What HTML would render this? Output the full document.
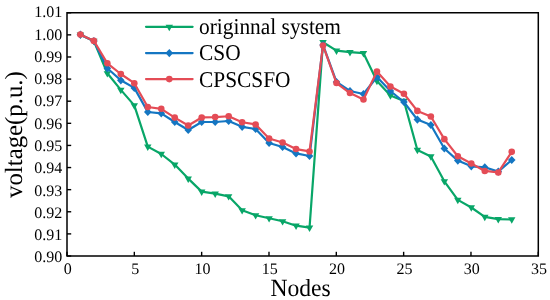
<!DOCTYPE html>
<html><head><meta charset="utf-8"><title>Voltage profile</title>
<style>html,body{margin:0;padding:0;background:#fff;}body{width:550px;height:300px;overflow:hidden;}svg{display:block;filter:blur(0.3px);}</style>
</head><body>
<svg width="550" height="300" viewBox="0 0 550 300" font-family="'Liberation Serif', 'Times New Roman', serif" fill="#000" text-rendering="geometricPrecision">
<rect width="550" height="300" fill="#fff"/>
<polyline points="80.38,34.70 93.86,41.00 107.34,73.30 120.82,89.90 134.30,105.40 147.78,146.60 161.26,154.00 174.74,164.60 188.22,178.60 201.70,191.60 215.18,193.60 228.66,196.30 242.14,210.30 255.62,215.30 269.10,218.30 282.58,221.30 296.06,225.70 309.54,227.60 323.02,42.20 336.50,50.65 349.98,52.15 363.46,53.15 376.94,81.00 390.42,95.50 403.90,101.00 417.38,150.00 430.86,156.50 444.34,181.30 457.82,199.90 471.30,207.50 484.78,216.90 498.26,219.10 511.74,219.50" fill="none" stroke="#08a668" stroke-width="2.2" stroke-linejoin="round"/>
<polygon points="76.66,32.55 84.10,32.55 80.38,39.00" fill="#08a668"/>
<polygon points="90.14,38.85 97.58,38.85 93.86,45.30" fill="#08a668"/>
<polygon points="103.62,71.15 111.06,71.15 107.34,77.60" fill="#08a668"/>
<polygon points="117.10,87.75 124.54,87.75 120.82,94.20" fill="#08a668"/>
<polygon points="130.58,103.25 138.02,103.25 134.30,109.70" fill="#08a668"/>
<polygon points="144.06,144.45 151.50,144.45 147.78,150.90" fill="#08a668"/>
<polygon points="157.54,151.85 164.98,151.85 161.26,158.30" fill="#08a668"/>
<polygon points="171.02,162.45 178.46,162.45 174.74,168.90" fill="#08a668"/>
<polygon points="184.50,176.45 191.94,176.45 188.22,182.90" fill="#08a668"/>
<polygon points="197.98,189.45 205.42,189.45 201.70,195.90" fill="#08a668"/>
<polygon points="211.46,191.45 218.90,191.45 215.18,197.90" fill="#08a668"/>
<polygon points="224.94,194.15 232.38,194.15 228.66,200.60" fill="#08a668"/>
<polygon points="238.42,208.15 245.86,208.15 242.14,214.60" fill="#08a668"/>
<polygon points="251.90,213.15 259.34,213.15 255.62,219.60" fill="#08a668"/>
<polygon points="265.38,216.15 272.82,216.15 269.10,222.60" fill="#08a668"/>
<polygon points="278.86,219.15 286.30,219.15 282.58,225.60" fill="#08a668"/>
<polygon points="292.34,223.55 299.78,223.55 296.06,230.00" fill="#08a668"/>
<polygon points="305.82,225.45 313.26,225.45 309.54,231.90" fill="#08a668"/>
<polygon points="319.30,40.05 326.74,40.05 323.02,46.50" fill="#08a668"/>
<polygon points="332.78,48.50 340.22,48.50 336.50,54.95" fill="#08a668"/>
<polygon points="346.26,50.00 353.70,50.00 349.98,56.45" fill="#08a668"/>
<polygon points="359.74,51.00 367.18,51.00 363.46,57.45" fill="#08a668"/>
<polygon points="373.22,78.85 380.66,78.85 376.94,85.30" fill="#08a668"/>
<polygon points="386.70,93.35 394.14,93.35 390.42,99.80" fill="#08a668"/>
<polygon points="400.18,98.85 407.62,98.85 403.90,105.30" fill="#08a668"/>
<polygon points="413.66,147.85 421.10,147.85 417.38,154.30" fill="#08a668"/>
<polygon points="427.14,154.35 434.58,154.35 430.86,160.80" fill="#08a668"/>
<polygon points="440.62,179.15 448.06,179.15 444.34,185.60" fill="#08a668"/>
<polygon points="454.10,197.75 461.54,197.75 457.82,204.20" fill="#08a668"/>
<polygon points="467.58,205.35 475.02,205.35 471.30,211.80" fill="#08a668"/>
<polygon points="481.06,214.75 488.50,214.75 484.78,221.20" fill="#08a668"/>
<polygon points="494.54,216.95 501.98,216.95 498.26,223.40" fill="#08a668"/>
<polygon points="508.02,217.35 515.46,217.35 511.74,223.80" fill="#08a668"/>
<polyline points="80.38,34.70 93.86,41.00 107.34,68.30 120.82,80.30 134.30,87.90 147.78,112.00 161.26,113.30 174.74,122.00 188.22,130.00 201.70,122.00 215.18,122.00 228.66,121.00 242.14,126.80 255.62,129.00 269.10,143.00 282.58,147.00 296.06,153.40 309.54,156.00 323.02,45.00 336.50,82.00 349.98,91.00 363.46,94.00 376.94,77.00 390.42,91.00 403.90,102.00 417.38,119.60 430.86,125.00 444.34,148.50 457.82,160.60 471.30,166.30 484.78,167.30 498.26,171.60 511.74,160.00" fill="none" stroke="#1476c2" stroke-width="2.2" stroke-linejoin="round"/>
<polygon points="80.38,30.60 84.18,34.70 80.38,38.80 76.58,34.70" fill="#1476c2"/>
<polygon points="93.86,36.90 97.66,41.00 93.86,45.10 90.06,41.00" fill="#1476c2"/>
<polygon points="107.34,64.20 111.14,68.30 107.34,72.40 103.54,68.30" fill="#1476c2"/>
<polygon points="120.82,76.20 124.62,80.30 120.82,84.40 117.02,80.30" fill="#1476c2"/>
<polygon points="134.30,83.80 138.10,87.90 134.30,92.00 130.50,87.90" fill="#1476c2"/>
<polygon points="147.78,107.90 151.58,112.00 147.78,116.10 143.98,112.00" fill="#1476c2"/>
<polygon points="161.26,109.20 165.06,113.30 161.26,117.40 157.46,113.30" fill="#1476c2"/>
<polygon points="174.74,117.90 178.54,122.00 174.74,126.10 170.94,122.00" fill="#1476c2"/>
<polygon points="188.22,125.90 192.02,130.00 188.22,134.10 184.42,130.00" fill="#1476c2"/>
<polygon points="201.70,117.90 205.50,122.00 201.70,126.10 197.90,122.00" fill="#1476c2"/>
<polygon points="215.18,117.90 218.98,122.00 215.18,126.10 211.38,122.00" fill="#1476c2"/>
<polygon points="228.66,116.90 232.46,121.00 228.66,125.10 224.86,121.00" fill="#1476c2"/>
<polygon points="242.14,122.70 245.94,126.80 242.14,130.90 238.34,126.80" fill="#1476c2"/>
<polygon points="255.62,124.90 259.42,129.00 255.62,133.10 251.82,129.00" fill="#1476c2"/>
<polygon points="269.10,138.90 272.90,143.00 269.10,147.10 265.30,143.00" fill="#1476c2"/>
<polygon points="282.58,142.90 286.38,147.00 282.58,151.10 278.78,147.00" fill="#1476c2"/>
<polygon points="296.06,149.30 299.86,153.40 296.06,157.50 292.26,153.40" fill="#1476c2"/>
<polygon points="309.54,151.90 313.34,156.00 309.54,160.10 305.74,156.00" fill="#1476c2"/>
<polygon points="323.02,40.90 326.82,45.00 323.02,49.10 319.22,45.00" fill="#1476c2"/>
<polygon points="336.50,77.90 340.30,82.00 336.50,86.10 332.70,82.00" fill="#1476c2"/>
<polygon points="349.98,86.90 353.78,91.00 349.98,95.10 346.18,91.00" fill="#1476c2"/>
<polygon points="363.46,89.90 367.26,94.00 363.46,98.10 359.66,94.00" fill="#1476c2"/>
<polygon points="376.94,72.90 380.74,77.00 376.94,81.10 373.14,77.00" fill="#1476c2"/>
<polygon points="390.42,86.90 394.22,91.00 390.42,95.10 386.62,91.00" fill="#1476c2"/>
<polygon points="403.90,97.90 407.70,102.00 403.90,106.10 400.10,102.00" fill="#1476c2"/>
<polygon points="417.38,115.50 421.18,119.60 417.38,123.70 413.58,119.60" fill="#1476c2"/>
<polygon points="430.86,120.90 434.66,125.00 430.86,129.10 427.06,125.00" fill="#1476c2"/>
<polygon points="444.34,144.40 448.14,148.50 444.34,152.60 440.54,148.50" fill="#1476c2"/>
<polygon points="457.82,156.50 461.62,160.60 457.82,164.70 454.02,160.60" fill="#1476c2"/>
<polygon points="471.30,162.20 475.10,166.30 471.30,170.40 467.50,166.30" fill="#1476c2"/>
<polygon points="484.78,163.20 488.58,167.30 484.78,171.40 480.98,167.30" fill="#1476c2"/>
<polygon points="498.26,167.50 502.06,171.60 498.26,175.70 494.46,171.60" fill="#1476c2"/>
<polygon points="511.74,155.90 515.54,160.00 511.74,164.10 507.94,160.00" fill="#1476c2"/>
<polyline points="80.38,34.50 93.86,40.90 107.34,63.30 120.82,74.00 134.30,83.20 147.78,107.00 161.26,108.80 174.74,117.60 188.22,125.45 201.70,117.45 215.18,117.05 228.66,116.25 242.14,122.25 255.62,124.45 269.10,138.45 282.58,142.45 296.06,149.05 309.54,151.45 323.02,45.45 336.50,83.05 349.98,93.05 363.46,99.45 376.94,71.60 390.42,86.50 403.90,93.70 417.38,110.90 430.86,116.45 444.34,139.15 457.82,156.25 471.30,163.45 484.78,170.95 498.26,172.45 511.74,151.85" fill="none" stroke="#e44c56" stroke-width="2.2" stroke-linejoin="round"/>
<circle cx="80.38" cy="34.50" r="3.3" fill="#e44c56"/>
<circle cx="93.86" cy="40.90" r="3.3" fill="#e44c56"/>
<circle cx="107.34" cy="63.30" r="3.3" fill="#e44c56"/>
<circle cx="120.82" cy="74.00" r="3.3" fill="#e44c56"/>
<circle cx="134.30" cy="83.20" r="3.3" fill="#e44c56"/>
<circle cx="147.78" cy="107.00" r="3.3" fill="#e44c56"/>
<circle cx="161.26" cy="108.80" r="3.3" fill="#e44c56"/>
<circle cx="174.74" cy="117.60" r="3.3" fill="#e44c56"/>
<circle cx="188.22" cy="125.45" r="3.3" fill="#e44c56"/>
<circle cx="201.70" cy="117.45" r="3.3" fill="#e44c56"/>
<circle cx="215.18" cy="117.05" r="3.3" fill="#e44c56"/>
<circle cx="228.66" cy="116.25" r="3.3" fill="#e44c56"/>
<circle cx="242.14" cy="122.25" r="3.3" fill="#e44c56"/>
<circle cx="255.62" cy="124.45" r="3.3" fill="#e44c56"/>
<circle cx="269.10" cy="138.45" r="3.3" fill="#e44c56"/>
<circle cx="282.58" cy="142.45" r="3.3" fill="#e44c56"/>
<circle cx="296.06" cy="149.05" r="3.3" fill="#e44c56"/>
<circle cx="309.54" cy="151.45" r="3.3" fill="#e44c56"/>
<circle cx="323.02" cy="45.45" r="3.3" fill="#e44c56"/>
<circle cx="336.50" cy="83.05" r="3.3" fill="#e44c56"/>
<circle cx="349.98" cy="93.05" r="3.3" fill="#e44c56"/>
<circle cx="363.46" cy="99.45" r="3.3" fill="#e44c56"/>
<circle cx="376.94" cy="71.60" r="3.3" fill="#e44c56"/>
<circle cx="390.42" cy="86.50" r="3.3" fill="#e44c56"/>
<circle cx="403.90" cy="93.70" r="3.3" fill="#e44c56"/>
<circle cx="417.38" cy="110.90" r="3.3" fill="#e44c56"/>
<circle cx="430.86" cy="116.45" r="3.3" fill="#e44c56"/>
<circle cx="444.34" cy="139.15" r="3.3" fill="#e44c56"/>
<circle cx="457.82" cy="156.25" r="3.3" fill="#e44c56"/>
<circle cx="471.30" cy="163.45" r="3.3" fill="#e44c56"/>
<circle cx="484.78" cy="170.95" r="3.3" fill="#e44c56"/>
<circle cx="498.26" cy="172.45" r="3.3" fill="#e44c56"/>
<circle cx="511.74" cy="151.85" r="3.3" fill="#e44c56"/>
<rect x="67.0" y="12.75" width="471.30" height="243.25" fill="none" stroke="#000" stroke-width="1.5"/>
<line x1="67.00" y1="256.0" x2="67.00" y2="251.80" stroke="#000" stroke-width="1.4"/>
<line x1="134.33" y1="256.0" x2="134.33" y2="251.80" stroke="#000" stroke-width="1.4"/>
<line x1="201.66" y1="256.0" x2="201.66" y2="251.80" stroke="#000" stroke-width="1.4"/>
<line x1="268.99" y1="256.0" x2="268.99" y2="251.80" stroke="#000" stroke-width="1.4"/>
<line x1="336.31" y1="256.0" x2="336.31" y2="251.80" stroke="#000" stroke-width="1.4"/>
<line x1="403.64" y1="256.0" x2="403.64" y2="251.80" stroke="#000" stroke-width="1.4"/>
<line x1="470.97" y1="256.0" x2="470.97" y2="251.80" stroke="#000" stroke-width="1.4"/>
<line x1="538.30" y1="256.0" x2="538.30" y2="251.80" stroke="#000" stroke-width="1.4"/>
<line x1="67.0" y1="256.00" x2="71.20" y2="256.00" stroke="#000" stroke-width="1.4"/>
<line x1="67.0" y1="233.89" x2="71.20" y2="233.89" stroke="#000" stroke-width="1.4"/>
<line x1="67.0" y1="211.77" x2="71.20" y2="211.77" stroke="#000" stroke-width="1.4"/>
<line x1="67.0" y1="189.66" x2="71.20" y2="189.66" stroke="#000" stroke-width="1.4"/>
<line x1="67.0" y1="167.55" x2="71.20" y2="167.55" stroke="#000" stroke-width="1.4"/>
<line x1="67.0" y1="145.43" x2="71.20" y2="145.43" stroke="#000" stroke-width="1.4"/>
<line x1="67.0" y1="123.32" x2="71.20" y2="123.32" stroke="#000" stroke-width="1.4"/>
<line x1="67.0" y1="101.20" x2="71.20" y2="101.20" stroke="#000" stroke-width="1.4"/>
<line x1="67.0" y1="79.09" x2="71.20" y2="79.09" stroke="#000" stroke-width="1.4"/>
<line x1="67.0" y1="56.98" x2="71.20" y2="56.98" stroke="#000" stroke-width="1.4"/>
<line x1="67.0" y1="34.86" x2="71.20" y2="34.86" stroke="#000" stroke-width="1.4"/>
<line x1="67.0" y1="12.75" x2="71.20" y2="12.75" stroke="#000" stroke-width="1.4"/>
<text x="67.80" y="273.6" text-anchor="middle" font-size="16">0</text>
<text x="135.13" y="273.6" text-anchor="middle" font-size="16">5</text>
<text x="202.46" y="273.6" text-anchor="middle" font-size="16">10</text>
<text x="269.79" y="273.6" text-anchor="middle" font-size="16">15</text>
<text x="337.11" y="273.6" text-anchor="middle" font-size="16">20</text>
<text x="404.44" y="273.6" text-anchor="middle" font-size="16">25</text>
<text x="471.77" y="273.6" text-anchor="middle" font-size="16">30</text>
<text x="539.10" y="273.6" text-anchor="middle" font-size="16">35</text>
<text x="62.2" y="262.45" text-anchor="end" font-size="16">0.90</text>
<text x="62.2" y="240.17" text-anchor="end" font-size="16">0.91</text>
<text x="62.2" y="217.89" text-anchor="end" font-size="16">0.92</text>
<text x="62.2" y="195.61" text-anchor="end" font-size="16">0.93</text>
<text x="62.2" y="173.33" text-anchor="end" font-size="16">0.94</text>
<text x="62.2" y="151.05" text-anchor="end" font-size="16">0.95</text>
<text x="62.2" y="128.77" text-anchor="end" font-size="16">0.96</text>
<text x="62.2" y="106.49" text-anchor="end" font-size="16">0.97</text>
<text x="62.2" y="84.21" text-anchor="end" font-size="16">0.98</text>
<text x="62.2" y="61.93" text-anchor="end" font-size="16">0.99</text>
<text x="62.2" y="39.65" text-anchor="end" font-size="16">1.00</text>
<text x="62.2" y="17.37" text-anchor="end" font-size="16">1.01</text>
<text transform="translate(300.6,295.7) scale(1,1.045)" x="0" y="0" text-anchor="middle" font-size="23.6">Nodes</text>
<text transform="translate(21.5,134.6) rotate(-90)" x="0" y="0" text-anchor="middle" font-size="24.8">voltage(p.u.)</text>
<line x1="146.0" y1="26.85" x2="192.6" y2="26.85" stroke="#08a668" stroke-width="2.2" stroke-linecap="round"/>
<polygon points="165.58,24.70 173.02,24.70 169.30,31.15" fill="#08a668"/>
<text transform="translate(199.0,34.1) scale(1,1.06)" x="0" y="0" font-size="21.4">originnal system</text>
<line x1="146.0" y1="53.05" x2="192.6" y2="53.05" stroke="#1476c2" stroke-width="2.2" stroke-linecap="round"/>
<polygon points="169.30,48.95 173.10,53.05 169.30,57.15 165.50,53.05" fill="#1476c2"/>
<text transform="translate(199.0,60.4) scale(1,1.06)" x="0" y="0" font-size="21.4">CSO</text>
<line x1="146.0" y1="79.1" x2="192.6" y2="79.1" stroke="#e44c56" stroke-width="2.2" stroke-linecap="round"/>
<circle cx="169.30" cy="79.10" r="3.3" fill="#e44c56"/>
<text transform="translate(199.0,86.6) scale(1,1.06)" x="0" y="0" font-size="21.4">CPSCSFO</text>
</svg>
</body></html>
